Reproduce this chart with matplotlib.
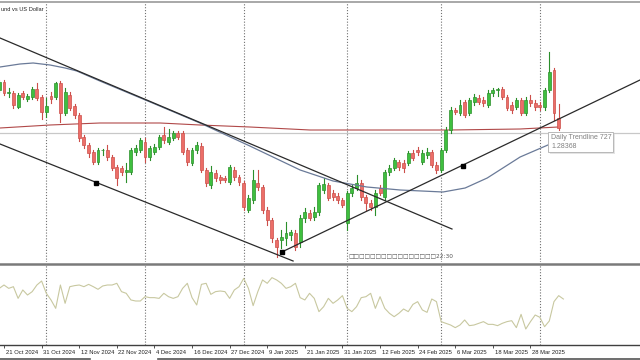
import numpy as np
import matplotlib
matplotlib.use('Agg')
import matplotlib.pyplot as plt
from matplotlib.patches import Rectangle
from matplotlib.lines import Line2D
import matplotlib.transforms as mtransforms

plt.rcParams['font.family'] = ['Liberation Sans', 'DejaVu Sans']

# daily bars, index 0 = 21 Oct 2024
bar_index = np.arange(-1, 119)

opens = [
    1.3020, 1.3060, 1.3005, 1.3005, 1.2935, 1.3005, 1.2975, 1.2985, 1.3025, 1.2985,
    1.2910, 1.2990, 1.2985, 1.3055, 1.2905, 1.2995, 1.2940, 1.2895, 1.2785, 1.2745,
    1.2710, 1.2660, 1.2718, 1.2720, 1.2685, 1.2635, 1.2630, 1.2610, 1.2610, 1.2710,
    1.2720, 1.2760, 1.2685, 1.2710, 1.2735, 1.2795, 1.2760, 1.2780, 1.2805, 1.2805,
    1.2720, 1.2655, 1.2720, 1.2740, 1.2620, 1.2545, 1.2605, 1.2585, 1.2580, 1.2560,
    1.2620, 1.2585, 1.2555, 1.2420, 1.2470, 1.2555, 1.2535, 1.2420, 1.2370, 1.2270,
    1.2270, 1.2280, 1.2295, 1.2305, 1.2260, 1.2380, 1.2405, 1.2385, 1.2410, 1.2520,
    1.2545, 1.2505, 1.2490, 1.2470, 1.2355, 1.2505, 1.2530, 1.2555, 1.2485, 1.2455,
    1.2435, 1.2530, 1.2485, 1.2610, 1.2630, 1.2660, 1.2655, 1.2655, 1.2705, 1.2720,
    1.2660, 1.2695, 1.2710, 1.2645, 1.2620, 1.2720, 1.2820, 1.2920, 1.2905, 1.2960,
    1.2905, 1.2960, 1.2980, 1.2970, 1.2945, 1.3005, 1.3020, 1.3025, 1.2985, 1.2945,
    1.2935, 1.2970, 1.2905, 1.2970, 1.2955, 1.2945, 1.2935, 1.3020, 1.3120, 1.2880,
]
highs = [
    1.3070, 1.3070, 1.3030, 1.3015, 1.3005, 1.3015, 1.3000, 1.3035, 1.3055, 1.2995,
    1.2980, 1.3010, 1.3060, 1.3065, 1.3030, 1.3010, 1.2950, 1.2905, 1.2795, 1.2755,
    1.2720, 1.2730, 1.2725, 1.2745, 1.2695, 1.2645, 1.2640, 1.2655, 1.2730, 1.2745,
    1.2780, 1.2780, 1.2740, 1.2750, 1.2795, 1.2835, 1.2825, 1.2815, 1.2815, 1.2815,
    1.2730, 1.2730, 1.2760, 1.2755, 1.2630, 1.2640, 1.2620, 1.2595, 1.2590, 1.2645,
    1.2635, 1.2595, 1.2565, 1.2495, 1.2620, 1.2620, 1.2545, 1.2435, 1.2380, 1.2280,
    1.2320, 1.2360, 1.2320, 1.2320, 1.2395, 1.2430, 1.2420, 1.2435, 1.2555, 1.2580,
    1.2555, 1.2520, 1.2505, 1.2480, 1.2515, 1.2545, 1.2595, 1.2570, 1.2495, 1.2470,
    1.2520, 1.2545, 1.2620, 1.2645, 1.2680, 1.2670, 1.2670, 1.2715, 1.2720, 1.2735,
    1.2720, 1.2730, 1.2720, 1.2660, 1.2730, 1.2835, 1.2935, 1.2930, 1.2970, 1.2970,
    1.2980, 1.3000, 1.2995, 1.2985, 1.3020, 1.3030, 1.3030, 1.3035, 1.2995, 1.2960,
    1.2980, 1.2980, 1.2985, 1.2995, 1.2970, 1.2960, 1.3030, 1.3210, 1.3130, 1.2950,
]
lows = [
    1.3010, 1.2995, 1.2985, 1.2930, 1.2930, 1.2975, 1.2965, 1.2975, 1.2970, 1.2875,
    1.2885, 1.2955, 1.2975, 1.2860, 1.2895, 1.2920, 1.2880, 1.2765, 1.2730, 1.2685,
    1.2650, 1.2650, 1.2695, 1.2670, 1.2620, 1.2545, 1.2595, 1.2560, 1.2600, 1.2695,
    1.2710, 1.2660, 1.2670, 1.2700, 1.2725, 1.2755, 1.2750, 1.2770, 1.2775, 1.2700,
    1.2645, 1.2645, 1.2705, 1.2610, 1.2540, 1.2530, 1.2565, 1.2555, 1.2560, 1.2550,
    1.2570, 1.2545, 1.2420, 1.2410, 1.2455, 1.2520, 1.2405, 1.2345, 1.2260, 1.2185,
    1.2230, 1.2245, 1.2270, 1.2220, 1.2235, 1.2360, 1.2370, 1.2370, 1.2395, 1.2505,
    1.2470, 1.2470, 1.2455, 1.2435, 1.2320, 1.2490, 1.2520, 1.2470, 1.2420, 1.2420,
    1.2395, 1.2495, 1.2470, 1.2595, 1.2620, 1.2620, 1.2610, 1.2645, 1.2670, 1.2695,
    1.2650, 1.2680, 1.2635, 1.2605, 1.2610, 1.2710, 1.2805, 1.2900, 1.2895, 1.2885,
    1.2895, 1.2945, 1.2950, 1.2940, 1.2935, 1.2990, 1.2990, 1.2975, 1.2920, 1.2905,
    1.2925, 1.2895, 1.2895, 1.2940, 1.2920, 1.2920, 1.2920, 1.3010, 1.2870, 1.2820,
]
closes = [
    1.3060, 1.3005, 1.3012, 1.2945, 1.2995, 1.2985, 1.2990, 1.3025, 1.2980, 1.2910,
    1.2940, 1.2975, 1.3055, 1.2905, 1.3010, 1.2930, 1.2895, 1.2780, 1.2745, 1.2705,
    1.2660, 1.2720, 1.2722, 1.2685, 1.2630, 1.2580, 1.2610, 1.2620, 1.2720, 1.2730,
    1.2770, 1.2685, 1.2730, 1.2735, 1.2785, 1.2770, 1.2785, 1.2805, 1.2785, 1.2710,
    1.2660, 1.2720, 1.2745, 1.2620, 1.2555, 1.2610, 1.2580, 1.2570, 1.2570, 1.2635,
    1.2585, 1.2560, 1.2435, 1.2480, 1.2570, 1.2535, 1.2420, 1.2370, 1.2280, 1.2235,
    1.2285, 1.2305, 1.2310, 1.2235, 1.2380, 1.2410, 1.2380, 1.2410, 1.2545, 1.2550,
    1.2480, 1.2485, 1.2470, 1.2445, 1.2505, 1.2530, 1.2555, 1.2485, 1.2455, 1.2435,
    1.2505, 1.2505, 1.2610, 1.2630, 1.2670, 1.2635, 1.2630, 1.2705, 1.2680, 1.2710,
    1.2705, 1.2710, 1.2645, 1.2620, 1.2720, 1.2820, 1.2920, 1.2910, 1.2945, 1.2895,
    1.2970, 1.2985, 1.2960, 1.2955, 1.3005, 1.3020, 1.3022, 1.2985, 1.2930, 1.2920,
    1.2970, 1.2905, 1.2970, 1.2955, 1.2935, 1.2935, 1.3020, 1.3110, 1.2905, 1.2830,
]

# lower window oscillator, one value per bar (-1 .. 119)
osc_index = np.arange(-1, 120)
osc_values = [
    70.8, 75.0, 70.8, 72.9, 58.3, 68.8, 62.5, 66.7, 75.0, 80.0,
    64.6, 56.3, 45.8, 75.0, 52.1, 72.9, 74.2, 75.0, 72.9, 75.8,
    72.9, 69.6, 73.8, 75.0, 75.0, 77.1, 66.7, 64.6, 56.3, 55.0,
    55.0, 60.4, 59.2, 59.2, 58.3, 64.6, 60.4, 58.3, 60.4, 70.8,
    77.1, 59.2, 50.0, 75.8, 77.1, 63.3, 66.7, 67.5, 66.7, 58.3,
    68.8, 72.9, 83.3, 70.8, 49.2, 66.7, 81.3, 77.1, 84.2, 81.3,
    77.1, 70.8, 72.9, 77.1, 59.2, 56.3, 64.6, 58.3, 41.7,
    47.9, 58.3, 52.1, 56.3, 61.7, 45.8, 41.7, 47.9, 59.2, 60.4,
    64.6, 45.8, 60.4, 45.8, 39.6, 35.4, 39.6, 45.0, 41.7, 50.8,
    54.2, 43.8, 40.8, 57.5, 54.2, 29.2, 27.1, 25.0, 21.7, 25.0,
    31.3, 24.2, 25.0, 27.1, 29.2, 25.8, 25.8, 24.2, 27.1, 29.2,
    30.4, 21.7, 38.3, 20.0, 29.2, 37.5, 34.6, 22.9, 30.0, 54.2,
    61.7, 57.5,
]

# moving averages, read at a few bars
ma_blue_bars = [-0.85, 3.4, 6.2, 9.8, 13.0, 15.5, 20.4, 31.1, 41.7, 52.3,
                63.0, 70.0, 77.2, 84.3, 93.4, 98.1, 102.8, 109.8, 116.2]
ma_blue_vals = [1.3135, 1.3150, 1.3155, 1.3145, 1.3130, 1.3115, 1.3065, 1.2960, 1.2855, 1.2740,
                1.2620, 1.2565, 1.2535, 1.2520, 1.2510, 1.2530, 1.2580, 1.2685, 1.2750]
ma_red_bars = [-0.85, 9.8, 20.4, 33.2, 41.7, 52.3, 65.1, 94.9, 109.8, 117.9]
ma_red_vals = [1.2830, 1.2845, 1.2855, 1.2855, 1.2845, 1.2835, 1.2820, 1.2820, 1.2825, 1.2835]
gray_level = 1.2805

# trendlines (bar, price) anchors
upper_bars, upper_vals = [-0.85, 95.3], [1.3280, 1.2325]
lower_bars, lower_vals = [-0.85, 61.5], [1.2750, 1.2165]
rising_bars, rising_vals = [59.1, 135.3], [1.2210, 1.3070]
anchor_bars = [19.6, 59.1, 97.7]
anchor_vals = [1.2555, 1.2210, 1.2640]

date_labels = ['21 Oct 2024', '31 Oct 2024', '12 Nov 2024', '22 Nov 2024', '4 Dec 2024',
               '16 Dec 2024', '27 Dec 2024', '9 Jan 2025', '21 Jan 2025', '31 Jan 2025',
               '12 Feb 2025', '24 Feb 2025', '6 Mar 2025', '18 Mar 2025', '28 Mar 2025']
label_bars = [0, 8, 16, 24, 32, 40, 48, 56, 64, 72, 80, 88, 96, 104, 112]
month_bars = [9, 30, 51, 73, 93, 114]

W, H = 640, 360
fig = plt.figure(figsize=(6.4, 3.6), dpi=100)
fig.patch.set_facecolor('white')

def fy(py):
    return 1 - py / H

ax = fig.add_axes([0, fy(262), 1, (262 - 3) / H])
ax2 = fig.add_axes([0, fy(345), 1, (345 - 265) / H])

x_lo, x_hi = -0.85, 135.3
ax.set_xlim(x_lo, x_hi)
ax.set_ylim(1.2160, 1.3455)
ax2.set_xlim(x_lo, x_hi)
ax2.set_ylim(0, 100)

for a in (ax, ax2):
    a.set_facecolor('white')
    for s in a.spines.values():
        s.set_visible(False)
    a.set_yticks([])
    for m in month_bars:
        a.axvline(m, color='#707070', lw=0.8, ls=(0, (1, 1.6)), zorder=1)
ax.set_xticks([])

# candles
up_face, up_edge = '#3fbf3f', '#2b8f2b'
dn_face, dn_edge = '#ec6e68', '#cc4f4a'
bw = 0.62
for i, o, h, l, c in zip(bar_index, opens, highs, lows, closes):
    up = c >= o
    ec = up_edge if up else dn_edge
    fc = up_face if up else dn_face
    ax.plot([i, i], [l, h], color=ec, lw=0.8, zorder=3)
    lo_b, hi_b = min(o, c), max(o, c)
    ax.add_patch(Rectangle((i - bw / 2, lo_b), bw, max(hi_b - lo_b, 0.0003),
                           facecolor=fc, edgecolor=ec, lw=0.5, zorder=4))

# indicators
ax.axhline(gray_level, color='#c8c8c8', lw=0.9, zorder=2)
ax.plot(ma_red_bars, ma_red_vals, color='#b04848', lw=0.8, zorder=2)
ax.plot(ma_blue_bars, ma_blue_vals, color='#6a7a98', lw=0.9, zorder=5)

# trendlines
ax.plot(upper_bars, upper_vals, color='#2a2a2a', lw=0.9, zorder=6)
ax.plot(lower_bars, lower_vals, color='#2a2a2a', lw=0.9, zorder=6)
ax.plot(rising_bars, rising_vals, color='#2a2a2a', lw=0.9, zorder=6)
ax.plot(anchor_bars, anchor_vals, 's', color='black', ms=2.2, zorder=7)

# oscillator window
ax2.plot(osc_index, osc_values, color='#c8c8a0', lw=0.8, zorder=3)
ax2.spines['bottom'].set_visible(True)
ax2.spines['bottom'].set_color('#404040')
ax2.spines['bottom'].set_linewidth(1.0)
ax2.set_xticks(label_bars)
ax2.set_xticklabels(date_labels, ha='left', fontsize=4.2, color='#222222')
ax2.tick_params(axis='x', length=2.5, width=0.6, color='#333333', pad=1.0)
shift = mtransforms.ScaledTranslation(1.2 / 72, 0, fig.dpi_scale_trans)
for lbl in ax2.get_xticklabels():
    lbl.set_transform(lbl.get_transform() + shift)

# frame lines of the terminal window
fig.add_artist(Line2D([0, 1], [fy(2), fy(2)], color='#9a9a9a', lw=1.2))
fig.add_artist(Line2D([0, 1], [fy(263.5), fy(263.5)], color='#7a7a7a', lw=1.8))
fig.add_artist(Line2D([0, 90 / W], [fy(359), fy(359)], color='#555555', lw=1.2))
fig.add_artist(Line2D([158 / W, 1], [fy(359), fy(359)], color='#555555', lw=1.2))

# window title (the part that is visible at the left edge)
fig.text(1 / W, fy(9.5), 'und vs US Dollar', ha='left', va='center',
         fontsize=4.1, color='#222222')

# object labels that render as boxes
fig.text(348 / W, fy(256), '\u25a1' * 16 + '22:30', ha='left', va='center',
         fontsize=4.2, color='#555555', family=['DejaVu Sans'])

# tooltip
fig.add_artist(Rectangle((550 / W, fy(154)), 65 / W, 20 / H, transform=fig.transFigure,
                         facecolor='#e4e4e4', edgecolor='none', zorder=8))
fig.add_artist(Rectangle((548 / W, fy(152)), 65 / W, 20 / H, transform=fig.transFigure,
                         facecolor='white', edgecolor='#b8b8b8', lw=0.7, zorder=9))
fig.text(551 / W, fy(137.5), 'Daily Trendline 727', ha='left', va='center',
         fontsize=5, color='#808080', zorder=10)
fig.text(551 / W, fy(147), '1.28368', ha='left', va='center',
         fontsize=5, color='#808080', zorder=10)

plt.savefig('out.png', dpi=100, facecolor='white')
plt.close()
